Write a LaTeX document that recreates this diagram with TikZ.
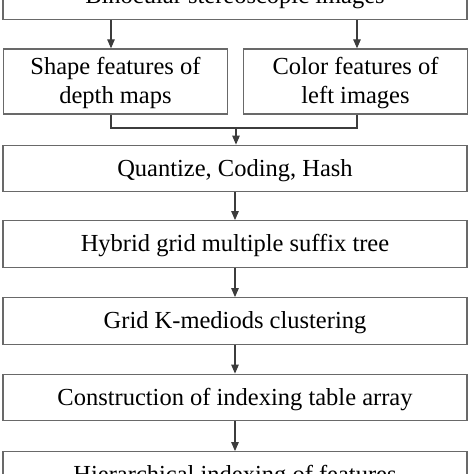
\documentclass[tikz,border=0pt]{standalone}
\usepackage{fontspec}
\setmainfont{Liberation Serif}
\definecolor{boxgray}{RGB}{105,105,105}
\definecolor{linegray}{RGB}{60,60,60}
\usetikzlibrary{arrows.meta,positioning}

\begin{document}
\begin{tikzpicture}[
  x=1pt, y=-1pt,
  flowbox/.style={
    rectangle,
    minimum width=464pt, minimum height=46.5pt,
    draw=boxgray, line width=1.3pt,
    fill=white,
    font=\fontsize{24.5}{29}\selectfont,
    align=center,
    inner sep=0pt,
    text height=16pt, text depth=1pt
  },
  halfbox/.style={flowbox, minimum width=224pt, minimum height=65pt,
    text height=45pt, text depth=1pt},
  conn/.style={-{Triangle[length=9pt,width=7.5pt]}, line width=1.1pt, draw=linegray}
]
\useasboundingbox (0,0) rectangle (474,474);

\node[flowbox]  (src)   at (235,-4)    {Binocular stereoscopic images};
\node[halfbox]  (shape) at (115.5,81.5) {Shape features of\\depth maps};
\node[halfbox]  (color) at (355.5,81.5) {Color features of\\left images};
\node[flowbox]  (quant) at (235,168.5) {Quantize, Coding, Hash};
\node[flowbox]  (tree)  at (235,244)   {Hybrid grid multiple suffix tree};
\node[flowbox]  (clust) at (235,321)   {Grid K-mediods clustering};
\node[flowbox]  (table) at (235,397.5) {Construction of indexing table array};
\node[flowbox]  (hier)  at (235,475)   {Hierarchical indexing of features};

\coordinate (join) at (236,128);

\draw[conn] ([xshift=-4.5pt]src.south -| shape.north) -- ([xshift=-4.5pt]shape.north);
\draw[conn] ([xshift=1.5pt]src.south -| color.north) -- ([xshift=1.5pt]color.north);
\draw[line width=1.1pt, draw=linegray] ([xshift=-4.5pt]shape.south) |- (join);
\draw[line width=1.1pt, draw=linegray] ([xshift=1.5pt]color.south) |- (join);
\draw[conn] (join) -- (join |- quant.north);
\draw[conn] (quant) -- (tree);
\draw[conn] (tree) -- (clust);
\draw[conn] (clust) -- (table);
\draw[conn] (table) -- (hier);
\end{tikzpicture}
\end{document}
